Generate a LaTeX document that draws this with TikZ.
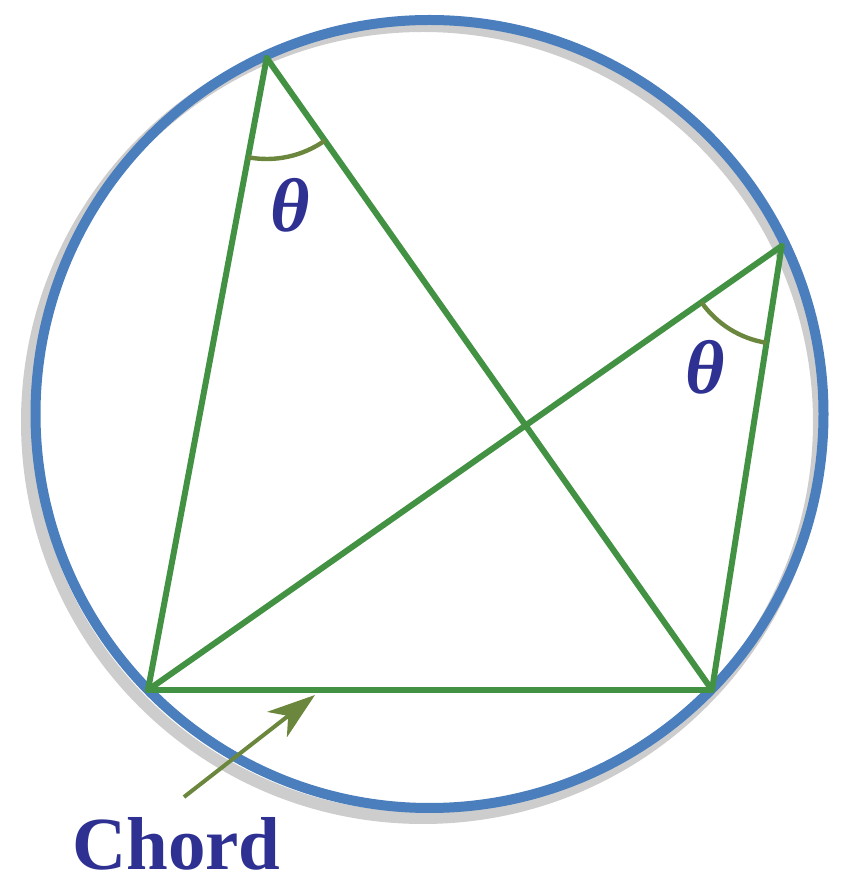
\documentclass[tikz,border=0pt]{standalone}
\usepackage{fontspec}
\setmainfont{Liberation Serif}
\usetikzlibrary{calc,arrows.meta}
\definecolor{rimblue}{RGB}{74,126,188}
\definecolor{rimgray}{RGB}{205,205,205}
\definecolor{chordgreen}{RGB}{67,146,68}
\definecolor{arcolive}{RGB}{107,135,62}
\definecolor{labelblue}{RGB}{46,49,146}
\tikzset{
	chordline/.style={line width=3pt, color=chordgreen, line cap=round, line join=round},
	anglearc/.style={line width=2.2pt, color=arcolive},
	thetalabel/.style={text=labelblue, font=\fontsize{38}{40}\selectfont\bfseries\itshape}
}

\begin{document}
\begin{tikzpicture}[x=0.5pt, y=0.5pt]
			%%%%% START %%%%%
			\useasboundingbox (0, 0) rectangle (851, 889);
			
			\coordinate (O) at (429.5, 475);
			\draw[line width=6pt, color=rimgray] (423, 467) circle (396);
			\draw[line width=5pt, color=rimblue] (O) circle (394);
			
			\coordinate (A) at (266.7, 831);
			\coordinate (B) at (781.7, 643);
			\coordinate (C) at (148, 199);
			\coordinate (D) at (712, 199);
			
			\draw[chordline] (A) -- (C);
			\draw[chordline] (A) -- (D);
			\draw[chordline] (B) -- (C);
			\draw[chordline] (B) -- (D);
			\draw[chordline] (C) -- (D);
			
			\draw[anglearc] ($(A)+(-100.5:101)$) arc (-100.5:-54.8:101);
			\draw[anglearc] ($(B)+(215:98)$) arc (215:261.1:98);
			
			\node[thetalabel] (thetaA) at (290, 684) {θ};
			\node[thetalabel] (thetaB) at (705, 522) {θ};
			
			\node[anchor=base, text=labelblue, font=\fontsize{37.5}{40}\selectfont\bfseries] (chord) at (176.5, 19) {Chord};
			\coordinate (chordtail) at (184, 92);
			\coordinate (chordtip) at (315, 194);
			\draw[line width=2pt, color=arcolive, -{Stealth[length=24pt, width=16pt, inset=7pt]}] (chordtail) -- (chordtip);
			%%%%% END %%%%%
\end{tikzpicture}
\end{document}
